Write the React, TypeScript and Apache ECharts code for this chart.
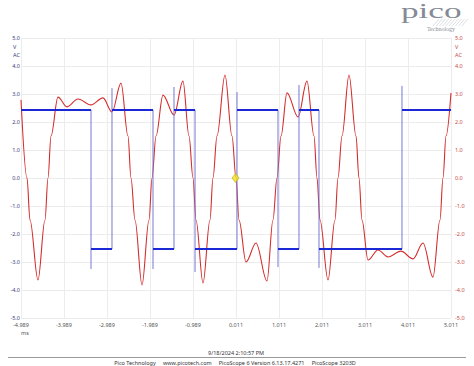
import React, { useEffect, useRef } from "react";
import * as echarts from "echarts";

// ---- axis definitions ----
const timeStart = -4.989;
const timeEnd = 5.011;
const xTickLabels = ["-4.989", "-3.989", "-2.989", "-1.989", "-0.989", "0.011", "1.011", "2.011", "3.011", "4.011", "5.011"];
const yTickLabels = ["-5.0", "-4.0", "-3.0", "-2.0", "-1.0", "0.0", "1.0", "2.0", "3.0", "4.0", "5.0"];

// ---- Channel B (red, AC) : time (ms) / volts ----
const redTimes = [
  -4.989, -4.849, -4.78, -4.594, -4.431, -4.361, -4.291, -4.129, -3.919, -3.663,
  -3.361, -3.082, -2.873, -2.663, -2.501, -2.431, -2.338, -2.175, -2.012, -1.942,
  -1.849, -1.687, -1.431, -1.222, -1.082, -0.989, -0.919, -0.756, -0.594, -0.524,
  -0.431, -0.245, -0.082, 0.011, 0.081, 0.244, 0.476, 0.732, 0.871, 0.964,
  1.058, 1.197, 1.453, 1.662, 1.825, 1.895, 1.964, 2.151, 2.313, 2.383,
  2.476, 2.639, 2.802, 2.871, 2.941, 3.081, 3.313, 3.546, 3.848, 4.127,
  4.36, 4.592, 4.755, 4.825, 4.895, 5.011,
];
const redVolts = [
  2.79, 0.0, -1.5, -3.64, -1.5, 0.0, 1.5, 2.89, 2.54, 2.82,
  2.61, 2.86, 2.36, 3.39, 1.5, 0.0, -1.5, -3.82, -1.5, 0.0,
  1.5, 2.96, 2.25, 3.46, 1.5, 0.0, -1.5, -3.75, -1.5, 0.0,
  1.5, 3.68, 1.5, 0.0, -1.5, -3.0, -2.32, -3.68, -1.5, 0.0,
  1.5, 3.04, 2.18, 3.46, 1.5, 0.0, -1.5, -3.64, -1.5, 0.0,
  1.5, 3.68, 1.5, 0.0, -1.5, -2.93, -2.57, -2.82, -2.61, -2.89,
  -2.32, -3.54, -1.5, 0.0, 1.5, 3.04,
];

// ---- Channel A (blue, digital) ----
const blueHigh = 2.43;
const blueLow = -2.54;
const blueEdgeTimes = [-3.361, -2.873, -1.919, -1.431, -0.942, 0.034, 0.988, 1.476, 1.941, 3.871];
const blueEdgeSpikes = [-3.25, 3.21, -3.25, 3.25, -3.36, 3.07, -3.18, 3.32, -3.21, 3.29];

// ---- trigger marker ----
const triggerPoint = [0.0, 0.0];

const FONT = "'Noto Sans', 'DejaVu Sans', sans-serif";
const SERIF = "'Liberation Serif', 'DejaVu Serif', serif";
const toU = (t: number) => +(t - timeStart).toFixed(4);

function buildLevels() {
  const out: any[] = [];
  let level = blueHigh;
  let start = timeStart;
  blueEdgeTimes.forEach((e) => {
    out.push([toU(start), level], [toU(e), level], [toU(e), "-"]);
    level = level === blueHigh ? blueLow : blueHigh;
    start = e;
  });
  out.push([toU(start), level], [toU(timeEnd), level]);
  return out;
}

function buildEdges() {
  const out: any[] = [];
  blueEdgeTimes.forEach((e, i) => {
    const spike = blueEdgeSpikes[i];
    const from = spike < 0 ? blueHigh : blueLow;
    out.push([toU(e), from], [toU(e), spike], [toU(e), "-"]);
  });
  return out;
}

export default function App() {
  const ref = useRef<HTMLDivElement>(null);

  useEffect(() => {
    document.body.style.margin = "0";
    const chart = echarts.init(ref.current!, null, { renderer: "svg" });

    const hatch: any[] = [];
    for (let k = 0; k < 10; k++) {
      const x = 433 + k * 3.2;
      hatch.push({
        type: "line",
        shape: { x1: x, y1: 26, x2: x + 6, y2: 19 },
        style: { stroke: "#c4c8d0", lineWidth: 0.6 },
        silent: true,
      });
    }

    const option: any = {
      animation: false,
      backgroundColor: "#ffffff",
      grid: { left: 21, right: 23, top: 38, bottom: 48, containLabel: false, outerBoundsMode: "none" },
      xAxis: {
        type: "value",
        min: 0,
        max: 10,
        interval: 1,
        axisLine: { show: false },
        axisTick: { show: false },
        splitLine: { show: true, lineStyle: { color: "#ececec", width: 1 } },
        axisLabel: {
          formatter: (v: number) => xTickLabels[Math.round(v)],
          fontSize: 5.5,
          color: "#555555",
          margin: 4,
          fontFamily: FONT,
        },
      },
      yAxis: [
        {
          type: "value",
          position: "left",
          min: -5,
          max: 5,
          interval: 1,
          axisLine: { show: false },
          axisTick: { show: false },
          splitLine: { show: true, lineStyle: { color: "#ececec", width: 1 } },
          axisLabel: {
            formatter: (v: number) => yTickLabels[Math.round(v) + 5],
            fontSize: 5.5,
            color: "#3b3b7a",
            margin: 1,
            fontFamily: FONT,
          },
        },
        {
          type: "value",
          position: "right",
          min: -5,
          max: 5,
          interval: 1,
          axisLine: { show: false },
          axisTick: { show: false },
          splitLine: { show: false },
          axisLabel: {
            formatter: (v: number) => yTickLabels[Math.round(v) + 5],
            fontSize: 5.5,
            color: "#c84848",
            margin: 4,
            fontFamily: FONT,
          },
        },
      ],
      series: [
        {
          name: "B",
          type: "line",
          yAxisIndex: 1,
          data: redTimes.map((t, i) => [toU(t), redVolts[i]]),
          smooth: 0.35,
          smoothMonotone: "x",
          showSymbol: false,
          lineStyle: { color: "#d42c2c", width: 1.1 },
          z: 2,
        },
        {
          name: "A edges",
          type: "line",
          yAxisIndex: 0,
          data: buildEdges(),
          connectNulls: false,
          showSymbol: false,
          lineStyle: { color: "#7878d4", width: 1 },
          z: 3,
        },
        {
          name: "A",
          type: "line",
          yAxisIndex: 0,
          data: buildLevels(),
          connectNulls: false,
          showSymbol: false,
          lineStyle: { color: "#1a28d6", width: 2 },
          z: 4,
        },
        {
          name: "trigger",
          type: "scatter",
          yAxisIndex: 0,
          data: [[toU(triggerPoint[0]), triggerPoint[1]]],
          symbol: "diamond",
          symbolSize: [7, 9],
          itemStyle: { color: "#f4e424", borderColor: "#b8a800", borderWidth: 0.8 },
          z: 5,
        },
      ],
      graphic: [
        { type: "text", x: 13, y: 47, style: { text: "V", fontSize: 5.5, fontFamily: FONT, fill: "#3b3b7a", verticalAlign: "middle" } },
        { type: "text", x: 13, y: 55, style: { text: "AC", fontSize: 5.5, fontFamily: FONT, fill: "#3b3b7a", verticalAlign: "middle" } },
        { type: "text", x: 455, y: 47, style: { text: "V", fontSize: 5.5, fontFamily: FONT, fill: "#c84848", verticalAlign: "middle" } },
        { type: "text", x: 455, y: 55, style: { text: "AC", fontSize: 5.5, fontFamily: FONT, fill: "#c84848", verticalAlign: "middle" } },
        { type: "text", x: 25, y: 333, style: { text: "ms", fontSize: 5.5, fontFamily: FONT, fill: "#555555", align: "center", verticalAlign: "middle" } },
        // logo
        { type: "text", x: 401, y: 11, scaleX: 1.6, style: { text: "pico", fontSize: 22, fontFamily: SERIF, fill: "#858a96", verticalAlign: "middle" } },
        ...hatch,
        { type: "text", x: 441, y: 29, style: { text: "Technology", fontSize: 6, fontFamily: SERIF, fill: "#8a8f99", align: "center", verticalAlign: "middle" } },
        // footer
        { type: "line", shape: { x1: 8, y1: 357.5, x2: 466, y2: 357.5 }, style: { stroke: "#999999", lineWidth: 1 } },
        { type: "text", x: 236, y: 352.5, style: { text: "9/18/2024 2:10:57 PM", fontSize: 5.5, fontFamily: FONT, fill: "#333333", align: "center", verticalAlign: "middle" } },
        {
          type: "text",
          x: 235,
          y: 362.5,
          style: {
            text: "Pico Technology     www.picotech.com     PicoScope 6 Version 6.13.17.4271     PicoScope 3203D",
            fontSize: 5.5,
            fontFamily: FONT,
            fill: "#333333",
            align: "center",
            verticalAlign: "middle",
          },
        },
      ],
    };

    chart.setOption(option);
    return () => chart.dispose();
  }, []);

  return <div ref={ref} style={{ width: 474, height: 366 }} />;
}
